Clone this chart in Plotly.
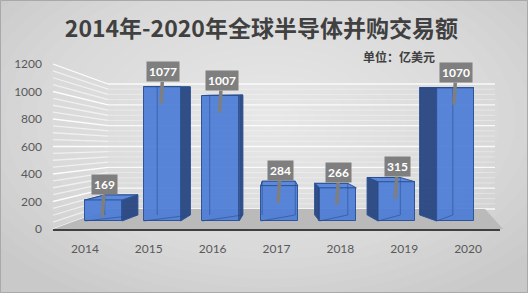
import plotly.graph_objects as go
import numpy as np

# ---------------- data ----------------
years = ["2014", "2015", "2016", "2017", "2018", "2019", "2020"]
values = [169, 1077, 1007, 284, 266, 315, 1070]
y_ticks = [0, 200, 400, 600, 800, 1000, 1200]
title_text = "2014年-2020年全球半导体并购交易额"
unit_text = "单位：亿美元"

# ---------------- layout constants (pixels) ----------------
FW, FH = 528, 293
L, R, T, B = 53, 500, 64, 229          # plot area
PW, PH = R - L, B - T
# bar plane (set back from front edge)
BAR_X0, BAR_DX = 103.5, 58.6
BAR_Y0, BAR_SY = 221.0, 0.1246
BAR_W = 0.63
# perspective of bar depth
KX, VPX, KY, VPY = 0.104, 274.0, 0.045, 87.0
# walls
BACK_L, BACK_R = 108, 495
BACK_Y0, BACK_SY = 209.0, 125.0 / 1200

def to_paper(px, py):
    return (px - L) / PW, (B - py) / PH

def back_pt(x, v):
    px = BAR_X0 + BAR_DX * x
    py = BAR_Y0 - BAR_SY * v
    dx = KX * (VPX - px)
    dy = KY * (VPY - py)
    return x + dx / BAR_DX, v - dy / BAR_SY

x2_range = [(L - BAR_X0) / BAR_DX, (R - BAR_X0) / BAR_DX]
y2_range = [(BAR_Y0 - B) / BAR_SY, (BAR_Y0 - T) / BAR_SY]

fig = go.Figure()

# invisible trace to anchor main axes
fig.add_trace(go.Scatter(x=[0, len(years) - 1], y=[0, 0], mode="markers",
                         marker=dict(opacity=0), hoverinfo="skip", showlegend=False))

FRONT = "rgba(76,125,214,0.93)"
SIDE = "rgba(40,70,130,0.95)"
TOP = "rgba(84,132,218,0.95)"
EDGE = "#2F5597"

idx = list(range(len(years)))
# side & top faces
for i, v in zip(idx, values):
    xl, xr = i - BAR_W / 2, i + BAR_W / 2
    px_l = BAR_X0 + BAR_DX * xl
    px_r = BAR_X0 + BAR_DX * xr
    bl0 = back_pt(xl, 0); blv = back_pt(xl, v)
    br0 = back_pt(xr, 0); brv = back_pt(xr, v)
    if px_r < VPX:
        xs = [xr, brv[0], br0[0], xr, xr]
        ys = [v, brv[1], br0[1], 0, v]
        fig.add_trace(go.Scatter(x=xs, y=ys, xaxis="x2", yaxis="y2", fill="toself",
                                 fillcolor=SIDE, line=dict(color=EDGE, width=1),
                                 mode="lines", hoverinfo="skip", showlegend=False))
    if px_l > VPX:
        xs = [xl, blv[0], bl0[0], xl, xl]
        ys = [v, blv[1], bl0[1], 0, v]
        fig.add_trace(go.Scatter(x=xs, y=ys, xaxis="x2", yaxis="y2", fill="toself",
                                 fillcolor=SIDE, line=dict(color=EDGE, width=1),
                                 mode="lines", hoverinfo="skip", showlegend=False))
    if BAR_Y0 - BAR_SY * v > VPY:
        xs = [xl, xr, brv[0], blv[0], xl]
        ys = [v, v, brv[1], blv[1], v]
        fig.add_trace(go.Scatter(x=xs, y=ys, xaxis="x2", yaxis="y2", fill="toself",
                                 fillcolor=TOP, line=dict(color=EDGE, width=1),
                                 mode="lines", hoverinfo="skip", showlegend=False))

# front faces: real bars
fig.add_trace(go.Bar(x=idx, y=values, xaxis="x2", yaxis="y2", width=BAR_W,
                     marker=dict(color=FRONT, line=dict(color=EDGE, width=1)),
                     hoverinfo="skip", showlegend=False))

# back edges seen through the glass
for i, v in zip(idx, values):
    xl, xr = i - BAR_W / 2, i + BAR_W / 2
    pts = [back_pt(xl, 0), back_pt(xl, v), back_pt(xr, v), back_pt(xr, 0)]
    fig.add_trace(go.Scatter(x=[p[0] for p in pts] + [xl, None, pts[1][0], xl],
                             y=[p[1] for p in pts] + [0, None, pts[1][1], v],
                             xaxis="x2", yaxis="y2", mode="lines",
                             line=dict(color="rgba(38,72,140,0.55)", width=1),
                             hoverinfo="skip", showlegend=False))

shapes = []
# radial gradient background
cx, cy = 268, 120
N = 22
for k in range(N):
    f = 1 - k / N
    rx, ry = 340 * f, 205 * f
    x0, y0 = to_paper(cx - rx, cy + ry)
    x1, y1 = to_paper(cx + rx, cy - ry)
    shapes.append(dict(type="circle", xref="paper", yref="paper", x0=x0, y0=y0, x1=x1, y1=y1,
                       fillcolor="white", opacity=0.05, line=dict(width=0), layer="below"))

# wall grid lines
for v in range(0, 1201, 50):
    major = v % 200 == 0
    fy = B - PH * v / 1200
    by = BACK_Y0 - BACK_SY * v
    a = to_paper(L, fy); b = to_paper(BACK_L, by); c = to_paper(BACK_R, by)
    col = "rgba(255,255,255,0.95)" if major else "rgba(255,255,255,0.6)"
    shapes.append(dict(type="line", xref="paper", yref="paper", x0=a[0], y0=a[1], x1=b[0], y1=b[1],
                       line=dict(color=col, width=1.3), layer="below"))
    shapes.append(dict(type="line", xref="paper", yref="paper", x0=b[0], y0=b[1], x1=c[0], y1=c[1],
                       line=dict(color="rgba(255,255,255,0.85)" if major else "rgba(255,255,255,0.35)",
                                 width=1.3 if major else 1), layer="below"))

# floor
p1 = to_paper(L, B); p2 = to_paper(BACK_L, BACK_Y0); p3 = to_paper(485, BACK_Y0); p4 = to_paper(503, B)
shapes.append(dict(type="path", xref="paper", yref="paper",
                   path=f"M {p1[0]},{p1[1]} L {p2[0]},{p2[1]} L {p3[0]},{p3[1]} L {p4[0]},{p4[1]} Z",
                   fillcolor="#bababa", line=dict(width=0), layer="below"))

# border
b0 = to_paper(0.5, FH - 0.5); b1 = to_paper(FW - 0.5, 0.5)
shapes.append(dict(type="rect", xref="paper", yref="paper", x0=b0[0], y0=b0[1], x1=b1[0], y1=b1[1],
                   line=dict(color="#a9a9a9", width=1), fillcolor="rgba(0,0,0,0)", layer="above"))

annotations = []
# data label callouts
for i, v in zip(idx, values):
    tip_v = v - 17 / BAR_SY
    annotations.append(dict(x=i - 0.02, y=tip_v, xref="x2", yref="y2",
                            text=f"<b>{v}</b>", showarrow=True, arrowhead=0, arrowwidth=3.5,
                            arrowcolor="#7f7f7f", ax=2, ay=-32, standoff=0,
                            bgcolor="#7f7f7f", borderpad=2,
                            font=dict(family="Lato", size=12, color="white")))

# unit subtitle
ux, uy = to_paper(399, 57)
annotations.append(dict(x=ux, y=uy, xref="paper", yref="paper", text=f"<b>{unit_text}</b>",
                        showarrow=False, xanchor="center", yanchor="middle",
                        font=dict(family="Noto Sans CJK SC", size=12, color="#404040")))

fig.update_layout(
    width=FW, height=FH, autosize=False,
    margin=dict(l=L, r=FW - R, t=T, b=FH - B, pad=0),
    paper_bgcolor="#c9c9c9", plot_bgcolor="rgba(0,0,0,0)",
    title=dict(text=f"<b>{title_text}</b>", x=0.495, xanchor="center", xref="container",
               y=1 - 29 / FH, yanchor="middle", yref="container",
               font=dict(family="Noto Sans CJK SC", size=23, color="#404040")),
    xaxis=dict(range=[-0.5, len(years) - 0.5], tickvals=idx, ticktext=years,
               showgrid=False, zeroline=False, showline=True, linecolor="#404040", linewidth=2,
               ticks="", tickfont=dict(family="Lato", size=12, color="#595959"),
               ticklabelstandoff=8),
    yaxis=dict(range=[0, 1200], tickvals=y_ticks, showgrid=False, zeroline=False,
               showline=False, ticks="", tickfont=dict(family="Lato", size=12, color="#595959"),
               ticklabelstandoff=10),
    xaxis2=dict(range=x2_range, overlaying="x", visible=False),
    yaxis2=dict(range=y2_range, overlaying="y", visible=False),
    shapes=shapes, annotations=annotations,
    showlegend=False, bargap=0,
)

fig.write_html("out.html")
